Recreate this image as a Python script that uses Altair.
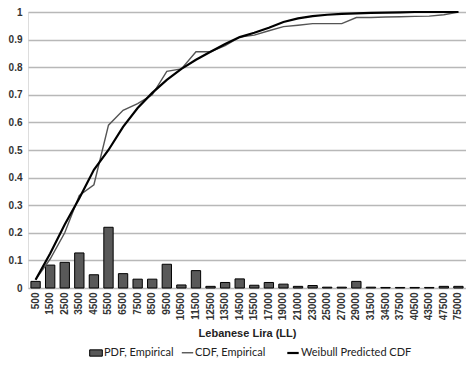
import altair as alt
import pandas as pd

cats = ["500", "1500", "2500", "3500", "4500", "5500", "6500", "7500", "8500", "9500",
        "10500", "11500", "12500", "13500", "14500", "15500", "17000", "19000", "21000", "23000",
        "25000", "27000", "29000", "31500", "34500", "37500", "40500", "43500", "47500", "75000"]
pdf = [0.024, 0.083, 0.093, 0.127, 0.048, 0.220, 0.052, 0.032, 0.032, 0.086,
       0.011, 0.063, 0.006, 0.020, 0.033, 0.010, 0.020, 0.014, 0.006, 0.009,
       0.003, 0.003, 0.024, 0.003, 0.002, 0.002, 0.002, 0.002, 0.006, 0.006]
cdf_emp = [0.030, 0.105, 0.200, 0.335, 0.374, 0.590, 0.644, 0.668, 0.700, 0.785,
           0.794, 0.856, 0.856, 0.878, 0.909, 0.916, 0.932, 0.947, 0.952, 0.958,
           0.958, 0.958, 0.980, 0.980, 0.982, 0.983, 0.984, 0.985, 0.990, 1.000]
weibull = [0.030, 0.125, 0.230, 0.325, 0.428, 0.500, 0.584, 0.652, 0.707, 0.754,
           0.794, 0.827, 0.856, 0.884, 0.909, 0.925, 0.943, 0.964, 0.977, 0.985,
           0.990, 0.993, 0.995, 0.997, 0.998, 0.999, 1.000, 1.000, 1.000, 1.000]
y_ticks = [0, 0.1, 0.2, 0.3, 0.4, 0.5, 0.6, 0.7, 0.8, 0.9, 1.0]

FONT = "Lato"

bars_df = pd.DataFrame({"cat": cats, "value": pdf, "series": "PDF, Empirical"})
lines_df = pd.concat([
    pd.DataFrame({"cat": cats, "value": cdf_emp, "series": "CDF, Empirical"}),
    pd.DataFrame({"cat": cats, "value": weibull, "series": "Weibull Predicted CDF"}),
])

x_enc = alt.X("cat:N", sort=cats, title="Lebanese Lira (LL)",
              scale=alt.Scale(paddingInner=0.36, paddingOuter=0.2),
              axis=alt.Axis(labelAngle=-90, labelFontWeight="bold", labelFontSize=10,
                            labelColor="#333333", labelPadding=4, ticks=False, domain=False,
                            labelOverlap=False,
                            titleFontSize=11, titleFontWeight="bold", titleColor="#222222",
                            titlePadding=8, grid=False))
y_enc = alt.Y("value:Q", title=None,
              scale=alt.Scale(domain=[0, 1], nice=False),
              axis=alt.Axis(values=y_ticks, labelOverlap=False,
                            format="~g", labelFontWeight="bold", labelFontSize=10,
                            labelColor="#333333", labelPadding=6, ticks=False, domain=False,
                            grid=True, gridColor="#b8b8b8", gridWidth=1.4))

line_legend = alt.Legend(title=None, orient="none", legendX=153, legendY=334,
                         direction="horizontal", symbolType="stroke",
                         symbolSize=130, columnPadding=16,
                         labelFont=FONT, labelFontSize=11, labelColor="#222222",
                         labelOffset=1, padding=0)

bars = alt.Chart(bars_df).mark_bar(stroke="black", strokeWidth=1).encode(
    x=x_enc,
    y=y_enc,
    fill=alt.Fill("series:N",
                  scale=alt.Scale(domain=["PDF, Empirical"], range=["#595959"]),
                  legend=alt.Legend(title=None, orient="none", legendX=61, legendY=334,
                                    symbolType="M-1,-0.5H1V0.5H-1Z", symbolSize=160,
                                    symbolStrokeColor="black", symbolStrokeWidth=1,
                                    labelFont=FONT, labelFontSize=11, labelColor="#222222",
                                    labelOffset=1, padding=0)),
)

lines = alt.Chart(lines_df).mark_line().encode(
    x=x_enc,
    y=y_enc,
    stroke=alt.Stroke("series:N",
                      scale=alt.Scale(domain=["CDF, Empirical", "Weibull Predicted CDF"],
                                      range=["#555555", "#000000"]),
                      legend=line_legend),
    strokeWidth=alt.StrokeWidth("series:N",
                                scale=alt.Scale(domain=["CDF, Empirical", "Weibull Predicted CDF"],
                                                range=[1.4, 2.2]),
                                legend=line_legend),
    order=alt.Order("series:N"),
)

chart = alt.layer(bars, lines).properties(
    width=438, height=276,
    autosize=alt.AutoSizeParams(type="none"),
    padding={"left": 20, "top": 4, "right": 0, "bottom": 74},
).configure_view(stroke=None).configure_axis(labelFont=FONT, titleFont=FONT).configure(
    background="white")

chart.save("out.html", embed_options={"renderer": "svg", "actions": False})
